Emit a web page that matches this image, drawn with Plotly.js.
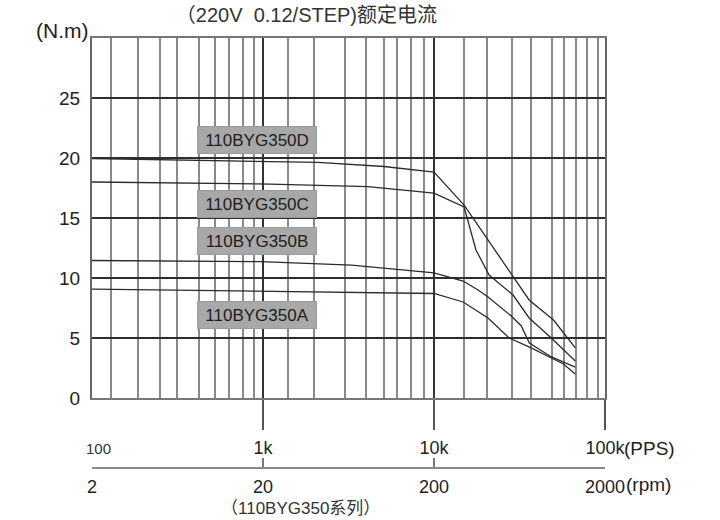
<!DOCTYPE html>
<html>
<head>
<meta charset="utf-8">
<script src="https://cdn.plot.ly/plotly-3.0.1.min.js"></script>
<style>html,body{margin:0;padding:0;background:#fff;}</style>
</head>
<body>
<div id="chart" style="width:720px;height:520px;"></div>
<script>
// ---- data (frequency in PPS, torque in N.m) ----
const seriesNames = ['110BYG350D', '110BYG350C', '110BYG350B', '110BYG350A'];
const ppsD = [100, 430, 2100, 5100, 10000, 15000, 29000, 36000, 50000, 59500, 67000];
const torqueD = [19.96, 19.83, 19.63, 19.29, 18.83, 16.08, 10.08, 8.17, 6.5, 5.08, 4.17];
const ppsC = [100, 1100, 4100, 10000, 15000, 17600, 21000, 29000, 36000, 48500, 67000];
const torqueC = [18.0, 17.83, 17.61, 17.08, 15.92, 12.33, 10.25, 8.58, 6.67, 5.0, 3.08];
const ppsB = [100, 970, 3300, 10000, 14800, 18100, 20700, 28300, 32400, 36100, 48600, 59500, 67000];
const torqueB = [11.46, 11.36, 11.08, 10.42, 9.75, 9.0, 8.42, 6.83, 6.0, 4.58, 3.42, 2.92, 2.58];
const ppsA = [100, 970, 10000, 14800, 20700, 27500, 37000, 48600, 57100, 67000];
const torqueA = [9.08, 8.92, 8.71, 8.0, 6.67, 5.0, 4.17, 3.33, 2.83, 2.0];

// ---- axis ticks ----
const ppsTickVals = [1000, 10000, 100000];
const ppsTickText = ['1k', '10k', '100k'];
const ppsGridVals = [130, 185, 250, 315, 420, 525, 635, 760, 880,
                     1400, 2000, 3000, 4000, 5100, 6100, 7300, 8700,
                     15000, 20500, 28500, 37000, 49000, 57500, 68000, 78000, 90500];
const rpmTickVals = [2, 20, 200, 2000];
const rpmTickText = ['2', '20', '200', '2000'];
const torqueTickVals = [0, 5, 10, 15, 20, 25];

const FONT = 'Liberation Sans, Arial, Noto Sans CJK SC, sans-serif';
const lineStyle = {color: '#2b2b2b', width: 1.3};

const traces = [
  {x: ppsD, y: torqueD, name: seriesNames[0]},
  {x: ppsC, y: torqueC, name: seriesNames[1]},
  {x: ppsB, y: torqueB, name: seriesNames[2]},
  {x: ppsA, y: torqueA, name: seriesNames[3]}
].map(t => Object.assign(t, {type: 'scatter', mode: 'lines', line: lineStyle,
  xaxis: 'x', yaxis: 'y', showlegend: false, hoverinfo: 'skip'}));
traces.push({type: 'scatter', mode: 'lines', x: [], y: [], xaxis: 'x2', yaxis: 'y',
  showlegend: false, hoverinfo: 'skip'});

const labelY = [21.46, 16.13, 13.08, 6.92];
const annotations = seriesNames.map((n, i) => ({
  text: n, xref: 'x', yref: 'y', x: 2.962, y: labelY[i], xanchor: 'center', yanchor: 'middle',
  showarrow: false, bgcolor: '#a8a8a8', bordercolor: '#9a9a9a', borderwidth: 1,
  borderpad: 3, width: 112, height: 20,
  font: {family: FONT, size: 17, color: '#1e1e1e'}
}));
annotations.push(
  {text: '(N.m)', xref: 'paper', yref: 'paper', x: -0.058, y: 1.015,
   xanchor: 'center', yanchor: 'middle', showarrow: false,
   font: {family: FONT, size: 21, color: '#222'}},
  {text: '100', xref: 'paper', yref: 'paper', x: 0.0136, y: 0.131,
   xanchor: 'center', yanchor: 'middle', showarrow: false,
   font: {family: FONT, size: 15, color: '#333'}},
  {text: '(PPS)', xref: 'paper', yref: 'paper', x: 1, xshift: 17, xanchor: 'left',
   y: 0.131, yanchor: 'middle', showarrow: false,
   font: {family: FONT, size: 19, color: '#222'}},
  {text: '(rpm)', xref: 'paper', yref: 'paper', x: 1, xshift: 19, xanchor: 'left',
   y: 0.053, yanchor: 'middle', showarrow: false,
   font: {family: FONT, size: 19, color: '#222'}},
  {text: '（110BYG350系列）', xref: 'paper', yref: 'paper', x: 0.407, y: 0.003,
   xanchor: 'center', yanchor: 'middle', showarrow: false,
   font: {family: FONT, size: 17, color: '#333'}}
);

const layout = {
  width: 720, height: 520,
  margin: {l: 92, r: 115, t: 38, b: 10},
  paper_bgcolor: '#fff', plot_bgcolor: '#fff',
  font: {family: FONT, color: '#222'},
  title: {text: '（220V  0.12/STEP)额定电流', xref: 'paper', x: 0.418, xanchor: 'center',
          yref: 'container', y: 0.972, yanchor: 'middle',
          font: {family: FONT, size: 20, color: '#333'}},
  xaxis: {
    type: 'log', range: [2, 5], anchor: 'y',
    tickvals: ppsTickVals, ticktext: ppsTickText,
    ticks: 'outside', ticklen: 30, tickwidth: 1.5, tickcolor: '#555',
    showgrid: true, gridcolor: '#333', gridwidth: 2.5,
    minor: {tickvals: ppsGridVals, showgrid: true, gridcolor: '#8a8a8a', gridwidth: 2, ticks: ''},
    showline: true, linecolor: '#777', linewidth: 2, mirror: true,
    zeroline: false, tickfont: {family: FONT, size: 18, color: '#222'},
    ticklabelstandoff: 2
  },
  xaxis2: {
    type: 'log', range: [Math.log10(2), Math.log10(2000)], overlaying: 'x', anchor: 'free', position: 0.0911,
    tickvals: rpmTickVals, ticktext: rpmTickText,
    ticks: 'inside', ticklen: 9, tickwidth: 1.5, tickcolor: '#777',
    showline: true, linecolor: '#8a8a8a', linewidth: 1.5,
    showgrid: false, zeroline: false,
    tickfont: {family: FONT, size: 18, color: '#222'}, ticklabelstandoff: 3
  },
  yaxis: {
    range: [0, 30], domain: [0.2373, 1],
    tickvals: torqueTickVals, ticks: '',
    showgrid: true, gridcolor: '#2e2e2e', gridwidth: 2,
    showline: true, linecolor: '#666', linewidth: 2, mirror: true,
    zeroline: false, tickfont: {family: FONT, size: 19, color: '#222'},
    ticklabelstandoff: 6
  },
  annotations: annotations
};

Plotly.newPlot('chart', traces, layout, {staticPlot: true, displayModeBar: false});
</script>
</body>
</html>
